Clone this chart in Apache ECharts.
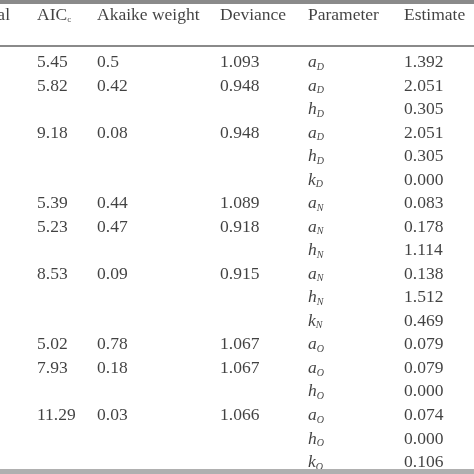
<!doctype html>
<html>
<head>
<meta charset="UTF-8">
<script src="https://cdn.jsdelivr.net/npm/echarts@6/dist/echarts.min.js"></script>
<style>html,body{margin:0;padding:0;background:#fff}</style>
</head>
<body>
<div id="chart" style="width:474px;height:474px;"></div>
<script>
// table content, one entry per row (null = empty cell)
var aicRows = [0, 1, 3, 6, 7, 9, 12, 13, 15];
var aicValues = ['5.45', '5.82', '9.18', '5.39', '5.23', '8.53', '5.02', '7.93', '11.29'];
var weights = ['0.5', '0.42', '0.08', '0.44', '0.47', '0.09', '0.78', '0.18', '0.03'];
var deviances = ['1.093', '0.948', '0.948', '1.089', '0.918', '0.915', '1.067', '1.067', '1.066'];
var paramNames = ['a', 'a', 'h', 'a', 'h', 'k', 'a', 'a', 'h', 'a', 'h', 'k', 'a', 'a', 'h', 'a', 'h', 'k'];
var paramSubs = ['D', 'D', 'D', 'D', 'D', 'D', 'N', 'N', 'N', 'N', 'N', 'N', 'O', 'O', 'O', 'O', 'O', 'O'];
var estimates = ['1.392', '2.051', '0.305', '2.051', '0.305', '0.000', '0.083', '0.178', '1.114',
                 '0.138', '1.512', '0.469', '0.079', '0.079', '0.000', '0.074', '0.000', '0.106'];
var headers = ['{m|AIC}{s|c}', 'Akaike weight', 'Deviance', 'Parameter', 'Estimate'];

var colX = [37, 97, 220, 308, 404];
var headerRow = -2;
var font = 'Liberation Serif';
var ink = '#111';
var rich = {
    m: { fontFamily: font, fontSize: 17.5, color: ink },
    s: { fontFamily: font, fontSize: 9, color: ink, padding: [8, 0, 0, 0] },
    i: { fontFamily: font, fontSize: 17.5, fontStyle: 'italic', color: ink },
    si: { fontFamily: font, fontSize: 10, fontStyle: 'italic', color: ink, padding: [9, 0, 0, 0] }
};

function textSeries(points, align) {
    return {
        type: 'scatter',
        symbolSize: 0,
        silent: true,
        data: points,
        label: {
            show: true,
            position: 'inside',
            align: align || 'left',
            verticalAlign: 'middle',
            fontFamily: font,
            fontSize: 17.5,
            color: ink,
            formatter: function (p) { return p.data[2]; },
            rich: rich
        }
    };
}

var header = headers.map(function (h, i) { return [colX[i], headerRow, h]; });
var aic = aicRows.map(function (r, i) { return [colX[0], r, aicValues[i]]; });
var wt = aicRows.map(function (r, i) { return [colX[1], r, weights[i]]; });
var dev = aicRows.map(function (r, i) { return [colX[2], r, deviances[i]]; });
var par = paramNames.map(function (n, r) { return [colX[3], r, '{i|' + n + '}{si|' + paramSubs[r] + '}']; });
var est = estimates.map(function (e, r) { return [colX[4], r, e]; });

var lines = textSeries([[10, headerRow, 'al']], 'right');
lines.markLine = {
    silent: true, symbol: 'none', label: { show: false },
    data: [
        { yAxis: -2.6, lineStyle: { color: '#8a8a8a', width: 4, type: 'solid' } },
        { yAxis: -0.72, lineStyle: { color: '#8a8a8a', width: 2, type: 'solid' } },
        { yAxis: 17.38, lineStyle: { color: '#b0b0b0', width: 6, type: 'solid' } }
    ]
};

var chart = echarts.init(document.getElementById('chart'));
chart.setOption({
    animation: false,
    grid: { left: 0, right: 0, top: 0, bottom: 0 },
    xAxis: { type: 'value', min: 0, max: 474, show: false },
    yAxis: { type: 'value', min: -2.66, max: 17.49, inverse: true, show: false },
    series: [lines, textSeries(header), textSeries(aic), textSeries(wt), textSeries(dev), textSeries(par), textSeries(est)]
});
</script>
</body>
</html>
